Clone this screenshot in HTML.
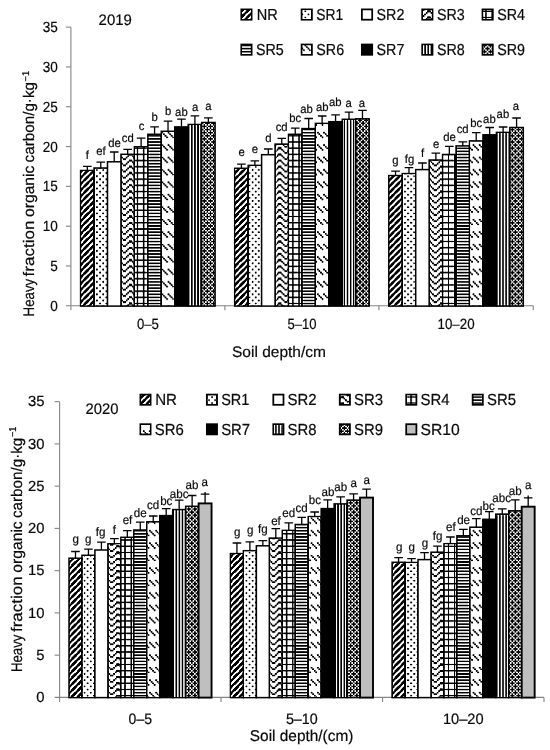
<!DOCTYPE html>
<html><head><meta charset="utf-8"><title>Heavy fraction organic carbon</title>
<style>
html,body{margin:0;padding:0;background:#fff;}
svg{display:block;font-family:'Liberation Sans', sans-serif;}
text{fill:#0a0a0a;stroke:#0a0a0a;stroke-width:0.2px;text-rendering:geometricPrecision;}
</style></head>
<body>
<svg width="550" height="750" viewBox="0 0 550 750">
<defs>
<filter id="sharp" filterUnits="userSpaceOnUse" x="0" y="0" width="550" height="750" color-interpolation-filters="sRGB"><feConvolveMatrix order="3" kernelMatrix="0 -0.35 0 -0.35 2.4 -0.35 0 -0.35 0" divisor="1" preserveAlpha="true"/></filter>
<g id="k0"><path d="M-1.5 5L5 -1.5M-1.5 1L1 -1.5M2.5 5L5 2.5" stroke="#000" stroke-width="1.38" fill="none"/></g>
<g id="r0"><use href="#k0" x="-4"/><use href="#k0" x="0"/><use href="#k0" x="4"/><use href="#k0" x="8"/><use href="#k0" x="12"/><use href="#k0" x="16"/><use href="#k0" x="20"/><use href="#k0" x="24"/><use href="#k0" x="28"/><use href="#k0" x="32"/><use href="#k0" x="36"/><use href="#k0" x="40"/><use href="#k0" x="44"/><use href="#k0" x="48"/><use href="#k0" x="52"/><use href="#k0" x="56"/><use href="#k0" x="60"/><use href="#k0" x="64"/><use href="#k0" x="68"/><use href="#k0" x="72"/></g>
<g id="m0"><use href="#r0" y="-4"/><use href="#r0" y="0"/><use href="#r0" y="4"/><use href="#r0" y="8"/><use href="#r0" y="12"/><use href="#r0" y="16"/><use href="#r0" y="20"/><use href="#r0" y="24"/><use href="#r0" y="28"/><use href="#r0" y="32"/><use href="#r0" y="36"/><use href="#r0" y="40"/><use href="#r0" y="44"/><use href="#r0" y="48"/><use href="#r0" y="52"/><use href="#r0" y="56"/><use href="#r0" y="60"/><use href="#r0" y="64"/><use href="#r0" y="68"/><use href="#r0" y="72"/></g>
<g id="k1"><rect x="0" y="0" width="1" height="1" fill="#000"/><rect x="2" y="2" width="1" height="1" fill="#000"/></g>
<g id="r1"><use href="#k1" x="-4"/><use href="#k1" x="0"/><use href="#k1" x="4"/><use href="#k1" x="8"/><use href="#k1" x="12"/><use href="#k1" x="16"/><use href="#k1" x="20"/><use href="#k1" x="24"/><use href="#k1" x="28"/><use href="#k1" x="32"/><use href="#k1" x="36"/><use href="#k1" x="40"/><use href="#k1" x="44"/><use href="#k1" x="48"/><use href="#k1" x="52"/><use href="#k1" x="56"/><use href="#k1" x="60"/><use href="#k1" x="64"/><use href="#k1" x="68"/><use href="#k1" x="72"/></g>
<g id="m1"><use href="#r1" y="-4"/><use href="#r1" y="0"/><use href="#r1" y="4"/><use href="#r1" y="8"/><use href="#r1" y="12"/><use href="#r1" y="16"/><use href="#r1" y="20"/><use href="#r1" y="24"/><use href="#r1" y="28"/><use href="#r1" y="32"/><use href="#r1" y="36"/><use href="#r1" y="40"/><use href="#r1" y="44"/><use href="#r1" y="48"/><use href="#r1" y="52"/><use href="#r1" y="56"/><use href="#r1" y="60"/><use href="#r1" y="64"/><use href="#r1" y="68"/><use href="#r1" y="72"/></g>
<g id="k3"><rect x="-0.05" y="-0.05" width="1.1" height="1.1" fill="#000"/><rect x="6.95" y="-0.05" width="1.1" height="1.1" fill="#000"/><rect x="0.95" y="0.95" width="1.1" height="1.1" fill="#000"/><rect x="5.95" y="0.95" width="1.1" height="1.1" fill="#000"/><rect x="1.95" y="1.95" width="1.1" height="1.1" fill="#000"/><rect x="4.95" y="1.95" width="1.1" height="1.1" fill="#000"/><rect x="2.95" y="2.95" width="2.1" height="1.1"/><rect x="-1.05" y="-0.05" width="2.1" height="1.1"/><rect x="6.95" y="-0.05" width="2.1" height="1.1"/></g>
<g id="r3"><use href="#k3" x="-8"/><use href="#k3" x="0"/><use href="#k3" x="8"/><use href="#k3" x="16"/><use href="#k3" x="24"/><use href="#k3" x="32"/><use href="#k3" x="40"/><use href="#k3" x="48"/><use href="#k3" x="56"/><use href="#k3" x="64"/><use href="#k3" x="72"/></g>
<g id="m3"><use href="#r3" y="-4"/><use href="#r3" y="0"/><use href="#r3" y="4"/><use href="#r3" y="8"/><use href="#r3" y="12"/><use href="#r3" y="16"/><use href="#r3" y="20"/><use href="#r3" y="24"/><use href="#r3" y="28"/><use href="#r3" y="32"/><use href="#r3" y="36"/><use href="#r3" y="40"/><use href="#r3" y="44"/><use href="#r3" y="48"/><use href="#r3" y="52"/><use href="#r3" y="56"/><use href="#r3" y="60"/><use href="#r3" y="64"/><use href="#r3" y="68"/><use href="#r3" y="72"/></g>
<g id="k6"><rect x="-0.04" y="1.96" width="1.08" height="1.08" fill="#000"/><rect x="0.96" y="2.96" width="1.08" height="1.08" fill="#000"/><rect x="1.96" y="3.96" width="1.08" height="1.08" fill="#000"/><rect x="2.96" y="4.96" width="1.08" height="1.08" fill="#000"/></g>
<g id="r6"><use href="#k6" x="-4"/><use href="#k6" x="0"/><use href="#k6" x="4"/><use href="#k6" x="8"/><use href="#k6" x="12"/><use href="#k6" x="16"/><use href="#k6" x="20"/><use href="#k6" x="24"/><use href="#k6" x="28"/><use href="#k6" x="32"/><use href="#k6" x="36"/><use href="#k6" x="40"/><use href="#k6" x="44"/><use href="#k6" x="48"/><use href="#k6" x="52"/><use href="#k6" x="56"/><use href="#k6" x="60"/><use href="#k6" x="64"/><use href="#k6" x="68"/><use href="#k6" x="72"/></g>
<g id="m6"><use href="#r6" y="-8"/><use href="#r6" y="0"/><use href="#r6" y="8"/><use href="#r6" y="16"/><use href="#r6" y="24"/><use href="#r6" y="32"/><use href="#r6" y="40"/><use href="#r6" y="48"/><use href="#r6" y="56"/><use href="#r6" y="64"/><use href="#r6" y="72"/></g>
<g id="k9"><rect x="2.99" y="-0.01" width="1.02" height="1.02" fill="#fff"/><rect x="-0.01" y="0.99" width="1.02" height="1.02" fill="#fff"/><rect x="1.99" y="0.99" width="1.02" height="1.02" fill="#fff"/><rect x="0.99" y="1.99" width="1.02" height="1.02" fill="#fff"/><rect x="-0.01" y="2.99" width="1.02" height="1.02" fill="#fff"/><rect x="1.99" y="2.99" width="1.02" height="1.02" fill="#fff"/></g>
<g id="r9"><use href="#k9" x="-4"/><use href="#k9" x="0"/><use href="#k9" x="4"/><use href="#k9" x="8"/><use href="#k9" x="12"/><use href="#k9" x="16"/><use href="#k9" x="20"/><use href="#k9" x="24"/><use href="#k9" x="28"/><use href="#k9" x="32"/><use href="#k9" x="36"/><use href="#k9" x="40"/><use href="#k9" x="44"/><use href="#k9" x="48"/><use href="#k9" x="52"/><use href="#k9" x="56"/><use href="#k9" x="60"/><use href="#k9" x="64"/><use href="#k9" x="68"/><use href="#k9" x="72"/></g>
<g id="m9"><use href="#r9" y="-4"/><use href="#r9" y="0"/><use href="#r9" y="4"/><use href="#r9" y="8"/><use href="#r9" y="12"/><use href="#r9" y="16"/><use href="#r9" y="20"/><use href="#r9" y="24"/><use href="#r9" y="28"/><use href="#r9" y="32"/><use href="#r9" y="36"/><use href="#r9" y="40"/><use href="#r9" y="44"/><use href="#r9" y="48"/><use href="#r9" y="52"/><use href="#r9" y="56"/><use href="#r9" y="60"/><use href="#r9" y="64"/><use href="#r9" y="68"/><use href="#r9" y="72"/></g>
<g id="m4"><rect x="-6" y="-4" width="84" height="0.92"/><rect x="-4" y="-6" width="0.92" height="84"/><rect x="-6" y="0" width="84" height="0.92"/><rect x="0" y="-6" width="0.92" height="84"/><rect x="-6" y="4" width="84" height="0.92"/><rect x="4" y="-6" width="0.92" height="84"/><rect x="-6" y="8" width="84" height="0.92"/><rect x="8" y="-6" width="0.92" height="84"/><rect x="-6" y="12" width="84" height="0.92"/><rect x="12" y="-6" width="0.92" height="84"/><rect x="-6" y="16" width="84" height="0.92"/><rect x="16" y="-6" width="0.92" height="84"/><rect x="-6" y="20" width="84" height="0.92"/><rect x="20" y="-6" width="0.92" height="84"/><rect x="-6" y="24" width="84" height="0.92"/><rect x="24" y="-6" width="0.92" height="84"/><rect x="-6" y="28" width="84" height="0.92"/><rect x="28" y="-6" width="0.92" height="84"/><rect x="-6" y="32" width="84" height="0.92"/><rect x="32" y="-6" width="0.92" height="84"/><rect x="-6" y="36" width="84" height="0.92"/><rect x="36" y="-6" width="0.92" height="84"/><rect x="-6" y="40" width="84" height="0.92"/><rect x="40" y="-6" width="0.92" height="84"/><rect x="-6" y="44" width="84" height="0.92"/><rect x="44" y="-6" width="0.92" height="84"/><rect x="-6" y="48" width="84" height="0.92"/><rect x="48" y="-6" width="0.92" height="84"/><rect x="-6" y="52" width="84" height="0.92"/><rect x="52" y="-6" width="0.92" height="84"/><rect x="-6" y="56" width="84" height="0.92"/><rect x="56" y="-6" width="0.92" height="84"/><rect x="-6" y="60" width="84" height="0.92"/><rect x="60" y="-6" width="0.92" height="84"/><rect x="-6" y="64" width="84" height="0.92"/><rect x="64" y="-6" width="0.92" height="84"/><rect x="-6" y="68" width="84" height="0.92"/><rect x="68" y="-6" width="0.92" height="84"/><rect x="-6" y="72" width="84" height="0.92"/><rect x="72" y="-6" width="0.92" height="84"/><rect x="-6" y="76" width="84" height="0.92"/><rect x="76" y="-6" width="0.92" height="84"/></g>
<g id="m5"><rect x="-6" y="-4.02" width="84" height="1.04"/><rect x="-6" y="-2.02" width="84" height="1.04"/><rect x="-6" y="-0.02" width="84" height="1.04"/><rect x="-6" y="1.98" width="84" height="1.04"/><rect x="-6" y="3.98" width="84" height="1.04"/><rect x="-6" y="5.98" width="84" height="1.04"/><rect x="-6" y="7.98" width="84" height="1.04"/><rect x="-6" y="9.98" width="84" height="1.04"/><rect x="-6" y="11.98" width="84" height="1.04"/><rect x="-6" y="13.98" width="84" height="1.04"/><rect x="-6" y="15.98" width="84" height="1.04"/><rect x="-6" y="17.98" width="84" height="1.04"/><rect x="-6" y="19.98" width="84" height="1.04"/><rect x="-6" y="21.98" width="84" height="1.04"/><rect x="-6" y="23.98" width="84" height="1.04"/><rect x="-6" y="25.98" width="84" height="1.04"/><rect x="-6" y="27.98" width="84" height="1.04"/><rect x="-6" y="29.98" width="84" height="1.04"/><rect x="-6" y="31.98" width="84" height="1.04"/><rect x="-6" y="33.98" width="84" height="1.04"/><rect x="-6" y="35.98" width="84" height="1.04"/><rect x="-6" y="37.98" width="84" height="1.04"/><rect x="-6" y="39.98" width="84" height="1.04"/><rect x="-6" y="41.98" width="84" height="1.04"/><rect x="-6" y="43.98" width="84" height="1.04"/><rect x="-6" y="45.98" width="84" height="1.04"/><rect x="-6" y="47.98" width="84" height="1.04"/><rect x="-6" y="49.98" width="84" height="1.04"/><rect x="-6" y="51.98" width="84" height="1.04"/><rect x="-6" y="53.98" width="84" height="1.04"/><rect x="-6" y="55.98" width="84" height="1.04"/><rect x="-6" y="57.98" width="84" height="1.04"/><rect x="-6" y="59.98" width="84" height="1.04"/><rect x="-6" y="61.98" width="84" height="1.04"/><rect x="-6" y="63.98" width="84" height="1.04"/><rect x="-6" y="65.98" width="84" height="1.04"/><rect x="-6" y="67.98" width="84" height="1.04"/><rect x="-6" y="69.98" width="84" height="1.04"/><rect x="-6" y="71.98" width="84" height="1.04"/><rect x="-6" y="73.98" width="84" height="1.04"/><rect x="-6" y="75.98" width="84" height="1.04"/></g>
<g id="m8"><rect x="-3.04" y="-6" width="1.08" height="84"/><rect x="-1.04" y="-6" width="1.08" height="84"/><rect x="0.96" y="-6" width="1.08" height="84"/><rect x="2.96" y="-6" width="1.08" height="84"/><rect x="4.96" y="-6" width="1.08" height="84"/><rect x="6.96" y="-6" width="1.08" height="84"/><rect x="8.96" y="-6" width="1.08" height="84"/><rect x="10.96" y="-6" width="1.08" height="84"/><rect x="12.96" y="-6" width="1.08" height="84"/><rect x="14.96" y="-6" width="1.08" height="84"/><rect x="16.96" y="-6" width="1.08" height="84"/><rect x="18.96" y="-6" width="1.08" height="84"/><rect x="20.96" y="-6" width="1.08" height="84"/><rect x="22.96" y="-6" width="1.08" height="84"/><rect x="24.96" y="-6" width="1.08" height="84"/><rect x="26.96" y="-6" width="1.08" height="84"/><rect x="28.96" y="-6" width="1.08" height="84"/><rect x="30.96" y="-6" width="1.08" height="84"/><rect x="32.96" y="-6" width="1.08" height="84"/><rect x="34.96" y="-6" width="1.08" height="84"/><rect x="36.96" y="-6" width="1.08" height="84"/><rect x="38.96" y="-6" width="1.08" height="84"/><rect x="40.96" y="-6" width="1.08" height="84"/><rect x="42.96" y="-6" width="1.08" height="84"/><rect x="44.96" y="-6" width="1.08" height="84"/><rect x="46.96" y="-6" width="1.08" height="84"/><rect x="48.96" y="-6" width="1.08" height="84"/><rect x="50.96" y="-6" width="1.08" height="84"/><rect x="52.96" y="-6" width="1.08" height="84"/><rect x="54.96" y="-6" width="1.08" height="84"/><rect x="56.96" y="-6" width="1.08" height="84"/><rect x="58.96" y="-6" width="1.08" height="84"/><rect x="60.96" y="-6" width="1.08" height="84"/><rect x="62.96" y="-6" width="1.08" height="84"/><rect x="64.96" y="-6" width="1.08" height="84"/><rect x="66.96" y="-6" width="1.08" height="84"/><rect x="68.96" y="-6" width="1.08" height="84"/><rect x="70.96" y="-6" width="1.08" height="84"/><rect x="72.96" y="-6" width="1.08" height="84"/><rect x="74.96" y="-6" width="1.08" height="84"/><rect x="76.96" y="-6" width="1.08" height="84"/></g>
<pattern id="tp0" patternUnits="userSpaceOnUse" width="72" height="72" patternTransform="scale(1.555556)"><rect width="72" height="72" fill="#fff"/><use href="#m0" transform="translate(3.8571 2.7386)"/></pattern>
<pattern id="tp1" patternUnits="userSpaceOnUse" width="72" height="72" patternTransform="scale(1.555556)"><rect width="72" height="72" fill="#fff"/><use href="#m1" transform="translate(3.8571 2.7386)"/></pattern>
<pattern id="tp2" patternUnits="userSpaceOnUse" width="72" height="72" patternTransform="scale(1.555556)"><rect width="72" height="72" fill="#fff"/></pattern>
<pattern id="tp3" patternUnits="userSpaceOnUse" width="72" height="72" patternTransform="scale(1.555556)"><rect width="72" height="72" fill="#fff"/><use href="#m3" transform="translate(3.8571 2.7386)"/></pattern>
<pattern id="tp4" patternUnits="userSpaceOnUse" width="72" height="72" patternTransform="scale(1.555556)"><rect width="72" height="72" fill="#fff"/><use href="#m4" transform="translate(3.8571 2.7386)"/></pattern>
<pattern id="tp5" patternUnits="userSpaceOnUse" width="72" height="72" patternTransform="scale(1.555556)"><rect width="72" height="72" fill="#fff"/><use href="#m5" transform="translate(3.8571 2.7386)"/></pattern>
<pattern id="tp6" patternUnits="userSpaceOnUse" width="72" height="72" patternTransform="scale(1.555556)"><rect width="72" height="72" fill="#fff"/><use href="#m6" transform="translate(3.8571 2.7386)"/></pattern>
<pattern id="tp7" patternUnits="userSpaceOnUse" width="72" height="72" patternTransform="scale(1.555556)"><rect width="72" height="72" fill="#000"/></pattern>
<pattern id="tp8" patternUnits="userSpaceOnUse" width="72" height="72" patternTransform="scale(1.555556)"><rect width="72" height="72" fill="#fff"/><use href="#m8" transform="translate(3.8571 2.7386)"/></pattern>
<pattern id="tp9" patternUnits="userSpaceOnUse" width="72" height="72" patternTransform="scale(1.555556)"><rect width="72" height="72" fill="#000"/><use href="#m9" transform="translate(3.8571 2.7386)"/></pattern>
<pattern id="tp10" patternUnits="userSpaceOnUse" width="72" height="72" patternTransform="scale(1.555556)"><rect width="72" height="72" fill="#bfbfbf"/></pattern>
<pattern id="bp0" patternUnits="userSpaceOnUse" width="72" height="72" patternTransform="scale(1.555556)"><rect width="72" height="72" fill="#fff"/><use href="#m0" transform="translate(3.8571 2.7386)"/></pattern>
<pattern id="bp1" patternUnits="userSpaceOnUse" width="72" height="72" patternTransform="scale(1.555556)"><rect width="72" height="72" fill="#fff"/><use href="#m1" transform="translate(3.8571 2.7386)"/></pattern>
<pattern id="bp2" patternUnits="userSpaceOnUse" width="72" height="72" patternTransform="scale(1.555556)"><rect width="72" height="72" fill="#fff"/></pattern>
<pattern id="bp3" patternUnits="userSpaceOnUse" width="72" height="72" patternTransform="scale(1.555556)"><rect width="72" height="72" fill="#fff"/><use href="#m3" transform="translate(3.8571 2.7386)"/></pattern>
<pattern id="bp4" patternUnits="userSpaceOnUse" width="72" height="72" patternTransform="scale(1.555556)"><rect width="72" height="72" fill="#fff"/><use href="#m4" transform="translate(3.8571 2.7386)"/></pattern>
<pattern id="bp5" patternUnits="userSpaceOnUse" width="72" height="72" patternTransform="scale(1.555556)"><rect width="72" height="72" fill="#fff"/><use href="#m5" transform="translate(3.8571 2.7386)"/></pattern>
<pattern id="bp6" patternUnits="userSpaceOnUse" width="72" height="72" patternTransform="scale(1.555556)"><rect width="72" height="72" fill="#fff"/><use href="#m6" transform="translate(3.8571 2.7386)"/></pattern>
<pattern id="bp7" patternUnits="userSpaceOnUse" width="72" height="72" patternTransform="scale(1.555556)"><rect width="72" height="72" fill="#000"/></pattern>
<pattern id="bp8" patternUnits="userSpaceOnUse" width="72" height="72" patternTransform="scale(1.555556)"><rect width="72" height="72" fill="#fff"/><use href="#m8" transform="translate(3.8571 2.7386)"/></pattern>
<pattern id="bp9" patternUnits="userSpaceOnUse" width="72" height="72" patternTransform="scale(1.555556)"><rect width="72" height="72" fill="#000"/><use href="#m9" transform="translate(3.8571 2.7386)"/></pattern>
<pattern id="bp10" patternUnits="userSpaceOnUse" width="72" height="72" patternTransform="scale(1.555556)"><rect width="72" height="72" fill="#bfbfbf"/></pattern>
</defs>
<rect width="550" height="750" fill="#fff"/>
<g id="chart2019">
<path d="M70.9 27.13V310.3M65.9 305.8H533.2" stroke="#858585" stroke-width="1.1" fill="none"/>
<path d="M65.9 265.99H70.9" stroke="#858585" stroke-width="1.1" fill="none"/>
<path d="M65.9 226.18H70.9" stroke="#858585" stroke-width="1.1" fill="none"/>
<path d="M65.9 186.37H70.9" stroke="#858585" stroke-width="1.1" fill="none"/>
<path d="M65.9 146.56H70.9" stroke="#858585" stroke-width="1.1" fill="none"/>
<path d="M65.9 106.75H70.9" stroke="#858585" stroke-width="1.1" fill="none"/>
<path d="M65.9 66.94H70.9" stroke="#858585" stroke-width="1.1" fill="none"/>
<path d="M65.9 27.13H70.9" stroke="#858585" stroke-width="1.1" fill="none"/>
<path d="M224.9 305.8V310.3" stroke="#858585" stroke-width="1.1" fill="none"/>
<path d="M378.9 305.8V310.3" stroke="#858585" stroke-width="1.1" fill="none"/>
<path d="M533.2 305.8V310.3" stroke="#858585" stroke-width="1.1" fill="none"/>
<g filter="url(#sharp)"><rect x="80.60" y="170.50" width="13.45" height="135.60" fill="url(#tp0)" stroke="#000" stroke-width="1.5"/>
<rect x="94.05" y="168.00" width="13.45" height="138.10" fill="url(#tp1)" stroke="#000" stroke-width="1.5"/>
<rect x="120.95" y="154.30" width="13.45" height="151.80" fill="url(#tp3)" stroke="#000" stroke-width="1.5"/>
<rect x="134.40" y="146.80" width="13.45" height="159.30" fill="url(#tp4)" stroke="#000" stroke-width="1.5"/>
<rect x="147.85" y="134.30" width="13.45" height="171.80" fill="url(#tp5)" stroke="#000" stroke-width="1.5"/>
<rect x="161.30" y="131.30" width="13.45" height="174.80" fill="url(#tp6)" stroke="#000" stroke-width="1.5"/>
<rect x="188.20" y="124.50" width="13.45" height="181.60" fill="url(#tp8)" stroke="#000" stroke-width="1.5"/>
<rect x="201.65" y="122.50" width="13.45" height="183.60" fill="url(#tp9)" stroke="#000" stroke-width="1.5"/>
<rect x="234.70" y="168.30" width="13.45" height="137.80" fill="url(#tp0)" stroke="#000" stroke-width="1.5"/>
<rect x="248.15" y="165.40" width="13.45" height="140.70" fill="url(#tp1)" stroke="#000" stroke-width="1.5"/>
<rect x="275.05" y="144.10" width="13.45" height="162.00" fill="url(#tp3)" stroke="#000" stroke-width="1.5"/>
<rect x="288.50" y="134.30" width="13.45" height="171.80" fill="url(#tp4)" stroke="#000" stroke-width="1.5"/>
<rect x="301.95" y="128.60" width="13.45" height="177.50" fill="url(#tp5)" stroke="#000" stroke-width="1.5"/>
<rect x="315.40" y="123.40" width="13.45" height="182.70" fill="url(#tp6)" stroke="#000" stroke-width="1.5"/>
<rect x="342.30" y="119.30" width="13.45" height="186.80" fill="url(#tp8)" stroke="#000" stroke-width="1.5"/>
<rect x="355.75" y="118.80" width="13.45" height="187.30" fill="url(#tp9)" stroke="#000" stroke-width="1.5"/>
<rect x="388.80" y="175.60" width="13.45" height="130.50" fill="url(#tp0)" stroke="#000" stroke-width="1.5"/>
<rect x="402.25" y="173.60" width="13.45" height="132.50" fill="url(#tp1)" stroke="#000" stroke-width="1.5"/>
<rect x="429.15" y="160.00" width="13.45" height="146.10" fill="url(#tp3)" stroke="#000" stroke-width="1.5"/>
<rect x="442.60" y="154.50" width="13.45" height="151.60" fill="url(#tp4)" stroke="#000" stroke-width="1.5"/>
<rect x="456.05" y="145.90" width="13.45" height="160.20" fill="url(#tp5)" stroke="#000" stroke-width="1.5"/>
<rect x="469.50" y="140.90" width="13.45" height="165.20" fill="url(#tp6)" stroke="#000" stroke-width="1.5"/>
<rect x="496.40" y="132.40" width="13.45" height="173.70" fill="url(#tp8)" stroke="#000" stroke-width="1.5"/>
<rect x="509.85" y="127.50" width="13.45" height="178.60" fill="url(#tp9)" stroke="#000" stroke-width="1.5"/></g>
<path d="M87.32 170.50V166.30M83.02 166.30H91.62" stroke="#000" stroke-width="1.3" fill="none"/>
<path d="M100.77 168.00V162.10M96.47 162.10H105.07" stroke="#000" stroke-width="1.3" fill="none"/>
<rect x="107.50" y="161.80" width="13.45" height="144.30" fill="url(#tp2)" stroke="#000" stroke-width="1.5"/>
<path d="M114.22 161.80V152.00M109.92 152.00H118.52" stroke="#000" stroke-width="1.3" fill="none"/>
<path d="M127.67 154.30V149.30M123.37 149.30H131.97" stroke="#000" stroke-width="1.3" fill="none"/>
<path d="M141.12 146.80V138.20M136.82 138.20H145.42" stroke="#000" stroke-width="1.3" fill="none"/>
<path d="M154.57 134.30V126.80M150.27 126.80H158.88" stroke="#000" stroke-width="1.3" fill="none"/>
<path d="M168.02 131.30V121.20M163.72 121.20H172.32" stroke="#000" stroke-width="1.3" fill="none"/>
<rect x="174.75" y="126.90" width="13.45" height="179.20" fill="url(#tp7)" stroke="#000" stroke-width="1.5"/>
<path d="M181.47 126.90V119.10M177.17 119.10H185.78" stroke="#000" stroke-width="1.3" fill="none"/>
<path d="M194.92 124.50V115.80M190.62 115.80H199.22" stroke="#000" stroke-width="1.3" fill="none"/>
<path d="M208.37 122.50V117.90M204.07 117.90H212.67" stroke="#000" stroke-width="1.3" fill="none"/>
<path d="M241.42 168.30V164.10M237.12 164.10H245.72" stroke="#000" stroke-width="1.3" fill="none"/>
<path d="M254.87 165.40V160.80M250.57 160.80H259.17" stroke="#000" stroke-width="1.3" fill="none"/>
<rect x="261.60" y="154.70" width="13.45" height="151.40" fill="url(#tp2)" stroke="#000" stroke-width="1.5"/>
<path d="M268.32 154.70V149.00M264.02 149.00H272.62" stroke="#000" stroke-width="1.3" fill="none"/>
<path d="M281.77 144.10V138.40M277.47 138.40H286.07" stroke="#000" stroke-width="1.3" fill="none"/>
<path d="M295.23 134.30V128.20M290.93 128.20H299.53" stroke="#000" stroke-width="1.3" fill="none"/>
<path d="M308.68 128.60V118.50M304.38 118.50H312.98" stroke="#000" stroke-width="1.3" fill="none"/>
<path d="M322.12 123.40V116.00M317.82 116.00H326.43" stroke="#000" stroke-width="1.3" fill="none"/>
<rect x="328.85" y="121.70" width="13.45" height="184.40" fill="url(#tp7)" stroke="#000" stroke-width="1.5"/>
<path d="M335.57 121.70V114.90M331.27 114.90H339.88" stroke="#000" stroke-width="1.3" fill="none"/>
<path d="M349.02 119.30V112.20M344.72 112.20H353.32" stroke="#000" stroke-width="1.3" fill="none"/>
<path d="M362.48 118.80V110.30M358.18 110.30H366.78" stroke="#000" stroke-width="1.3" fill="none"/>
<path d="M395.53 175.60V171.20M391.23 171.20H399.83" stroke="#000" stroke-width="1.3" fill="none"/>
<path d="M408.98 173.60V167.60M404.68 167.60H413.28" stroke="#000" stroke-width="1.3" fill="none"/>
<rect x="415.70" y="169.60" width="13.45" height="136.50" fill="url(#tp2)" stroke="#000" stroke-width="1.5"/>
<path d="M422.43 169.60V163.00M418.12 163.00H426.73" stroke="#000" stroke-width="1.3" fill="none"/>
<path d="M435.88 160.00V153.20M431.57 153.20H440.18" stroke="#000" stroke-width="1.3" fill="none"/>
<path d="M449.33 154.50V146.30M445.03 146.30H453.63" stroke="#000" stroke-width="1.3" fill="none"/>
<path d="M462.78 145.90V141.80M458.48 141.80H467.08" stroke="#000" stroke-width="1.3" fill="none"/>
<path d="M476.23 140.90V132.70M471.93 132.70H480.53" stroke="#000" stroke-width="1.3" fill="none"/>
<rect x="482.95" y="134.80" width="13.45" height="171.30" fill="url(#tp7)" stroke="#000" stroke-width="1.5"/>
<path d="M489.68 134.80V127.50M485.38 127.50H493.98" stroke="#000" stroke-width="1.3" fill="none"/>
<path d="M503.12 132.40V127.00M498.82 127.00H507.43" stroke="#000" stroke-width="1.3" fill="none"/>
<path d="M516.58 127.50V118.00M512.28 118.00H520.88" stroke="#000" stroke-width="1.3" fill="none"/>
<text x="85.73" y="159.20" font-size="11.9" textLength="3.14" lengthAdjust="spacingAndGlyphs">f</text>
<text x="96.29" y="154.90" font-size="11.9" textLength="9.43" lengthAdjust="spacingAndGlyphs">ef</text>
<text x="108.31" y="147.00" font-size="11.9" textLength="12.57" lengthAdjust="spacingAndGlyphs">de</text>
<text x="121.83" y="142.10" font-size="11.9" textLength="11.94" lengthAdjust="spacingAndGlyphs">cd</text>
<text x="138.67" y="129.50" font-size="11.9" textLength="5.65" lengthAdjust="spacingAndGlyphs">c</text>
<text x="151.56" y="121.30" font-size="11.9" textLength="6.29" lengthAdjust="spacingAndGlyphs">b</text>
<text x="165.06" y="114.70" font-size="11.9" textLength="6.29" lengthAdjust="spacingAndGlyphs">b</text>
<text x="175.11" y="115.90" font-size="11.9" textLength="12.57" lengthAdjust="spacingAndGlyphs">ab</text>
<text x="192.06" y="110.90" font-size="11.9" textLength="6.29" lengthAdjust="spacingAndGlyphs">a</text>
<text x="205.26" y="110.10" font-size="11.9" textLength="6.29" lengthAdjust="spacingAndGlyphs">a</text>
<text x="238.46" y="156.00" font-size="11.9" textLength="6.29" lengthAdjust="spacingAndGlyphs">e</text>
<text x="251.86" y="153.20" font-size="11.9" textLength="6.29" lengthAdjust="spacingAndGlyphs">e</text>
<text x="265.26" y="141.70" font-size="11.9" textLength="6.29" lengthAdjust="spacingAndGlyphs">d</text>
<text x="275.73" y="131.40" font-size="11.9" textLength="11.94" lengthAdjust="spacingAndGlyphs">cd</text>
<text x="289.13" y="121.60" font-size="11.9" textLength="11.94" lengthAdjust="spacingAndGlyphs">bc</text>
<text x="300.21" y="113.00" font-size="11.9" textLength="12.57" lengthAdjust="spacingAndGlyphs">ab</text>
<text x="315.91" y="110.70" font-size="11.9" textLength="12.57" lengthAdjust="spacingAndGlyphs">ab</text>
<text x="329.01" y="106.10" font-size="11.9" textLength="12.57" lengthAdjust="spacingAndGlyphs">ab</text>
<text x="345.46" y="107.10" font-size="11.9" textLength="6.29" lengthAdjust="spacingAndGlyphs">a</text>
<text x="358.86" y="106.60" font-size="11.9" textLength="6.29" lengthAdjust="spacingAndGlyphs">a</text>
<text x="392.36" y="163.90" font-size="11.9" textLength="6.29" lengthAdjust="spacingAndGlyphs">g</text>
<text x="404.79" y="162.80" font-size="11.9" textLength="9.43" lengthAdjust="spacingAndGlyphs">fg</text>
<text x="421.03" y="156.90" font-size="11.9" textLength="3.14" lengthAdjust="spacingAndGlyphs">f</text>
<text x="432.96" y="147.90" font-size="11.9" textLength="6.29" lengthAdjust="spacingAndGlyphs">e</text>
<text x="443.31" y="140.50" font-size="11.9" textLength="12.57" lengthAdjust="spacingAndGlyphs">de</text>
<text x="456.63" y="133.40" font-size="11.9" textLength="11.94" lengthAdjust="spacingAndGlyphs">cd</text>
<text x="470.23" y="126.70" font-size="11.9" textLength="11.94" lengthAdjust="spacingAndGlyphs">bc</text>
<text x="483.11" y="122.60" font-size="11.9" textLength="12.57" lengthAdjust="spacingAndGlyphs">ab</text>
<text x="496.61" y="118.00" font-size="11.9" textLength="12.57" lengthAdjust="spacingAndGlyphs">ab</text>
<text x="512.86" y="110.40" font-size="11.9" textLength="6.29" lengthAdjust="spacingAndGlyphs">a</text>
<text x="50.25" y="310.85" font-size="14.7" textLength="7.55" lengthAdjust="spacingAndGlyphs">0</text>
<text x="50.25" y="271.04" font-size="14.7" textLength="7.55" lengthAdjust="spacingAndGlyphs">5</text>
<text x="42.70" y="231.23" font-size="14.7" textLength="15.10" lengthAdjust="spacingAndGlyphs">10</text>
<text x="42.70" y="191.42" font-size="14.7" textLength="15.10" lengthAdjust="spacingAndGlyphs">15</text>
<text x="42.70" y="151.61" font-size="14.7" textLength="15.10" lengthAdjust="spacingAndGlyphs">20</text>
<text x="42.70" y="111.80" font-size="14.7" textLength="15.10" lengthAdjust="spacingAndGlyphs">25</text>
<text x="42.70" y="71.99" font-size="14.7" textLength="15.10" lengthAdjust="spacingAndGlyphs">30</text>
<text x="42.70" y="32.18" font-size="14.7" textLength="15.10" lengthAdjust="spacingAndGlyphs">35</text>
<text x="136.90" y="328.9" font-size="14.8" textLength="22.0" lengthAdjust="spacingAndGlyphs">0–5</text>
<text x="287.40" y="328.9" font-size="14.8" textLength="29.0" lengthAdjust="spacingAndGlyphs">5–10</text>
<text x="437.55" y="328.9" font-size="14.8" textLength="37.0" lengthAdjust="spacingAndGlyphs">10–20</text>
<text x="232.0" y="356.6" font-size="15.3" textLength="94.0" lengthAdjust="spacingAndGlyphs">Soil depth/cm</text>
<text transform="translate(34.4 316.40) rotate(-90)" font-size="15.3" textLength="37.6" lengthAdjust="spacingAndGlyphs">Heavy</text>
<text transform="translate(34.4 276.40) rotate(-90)" font-size="15.3" textLength="55.8" lengthAdjust="spacingAndGlyphs">fraction</text>
<text transform="translate(34.4 217.00) rotate(-90)" font-size="15.3" textLength="51.4" lengthAdjust="spacingAndGlyphs">organic</text>
<text transform="translate(34.4 162.40) rotate(-90)" font-size="15.3" textLength="80.4" lengthAdjust="spacingAndGlyphs">carbon/g·kg</text>
<text transform="translate(28.9 81.40) rotate(-90)" font-size="10.0" textLength="10.6" lengthAdjust="spacingAndGlyphs">−1</text>
<text x="98.6" y="25.4" font-size="15.2" textLength="33.2" lengthAdjust="spacingAndGlyphs">2019</text>
<rect x="241.30" y="9.40" width="10.3" height="10.3" fill="url(#tp0)" stroke="#000" stroke-width="1.75" filter="url(#sharp)"/>
<text x="256.80" y="20.00" font-size="15.9" textLength="21.0" lengthAdjust="spacingAndGlyphs">NR</text>
<rect x="301.60" y="9.40" width="10.3" height="10.3" fill="url(#tp1)" stroke="#000" stroke-width="1.75" filter="url(#sharp)"/>
<text x="316.30" y="20.00" font-size="15.9" textLength="27.0" lengthAdjust="spacingAndGlyphs">SR1</text>
<rect x="361.90" y="9.40" width="10.3" height="10.3" fill="url(#tp2)" stroke="#000" stroke-width="1.75"/>
<text x="376.60" y="20.00" font-size="15.9" textLength="27.8" lengthAdjust="spacingAndGlyphs">SR2</text>
<rect x="422.20" y="9.40" width="10.3" height="10.3" fill="url(#tp3)" stroke="#000" stroke-width="1.75" filter="url(#sharp)"/>
<text x="436.90" y="20.00" font-size="15.9" textLength="27.8" lengthAdjust="spacingAndGlyphs">SR3</text>
<rect x="482.50" y="9.40" width="10.3" height="10.3" fill="url(#tp4)" stroke="#000" stroke-width="1.75" filter="url(#sharp)"/>
<text x="497.20" y="20.00" font-size="15.9" textLength="27.8" lengthAdjust="spacingAndGlyphs">SR4</text>
<rect x="241.30" y="44.50" width="10.3" height="10.3" fill="url(#tp5)" stroke="#000" stroke-width="1.75" filter="url(#sharp)"/>
<text x="256.00" y="55.10" font-size="15.9" textLength="27.8" lengthAdjust="spacingAndGlyphs">SR5</text>
<rect x="301.60" y="44.50" width="10.3" height="10.3" fill="url(#tp6)" stroke="#000" stroke-width="1.75" filter="url(#sharp)"/>
<text x="316.30" y="55.10" font-size="15.9" textLength="27.8" lengthAdjust="spacingAndGlyphs">SR6</text>
<rect x="361.90" y="44.50" width="10.3" height="10.3" fill="url(#tp7)" stroke="#000" stroke-width="1.75"/>
<text x="376.60" y="55.10" font-size="15.9" textLength="27.8" lengthAdjust="spacingAndGlyphs">SR7</text>
<rect x="422.20" y="44.50" width="10.3" height="10.3" fill="url(#tp8)" stroke="#000" stroke-width="1.75" filter="url(#sharp)"/>
<text x="436.90" y="55.10" font-size="15.9" textLength="27.8" lengthAdjust="spacingAndGlyphs">SR8</text>
<rect x="482.50" y="44.50" width="10.3" height="10.3" fill="url(#tp9)" stroke="#000" stroke-width="1.75" filter="url(#sharp)"/>
<text x="497.20" y="55.10" font-size="15.9" textLength="27.8" lengthAdjust="spacingAndGlyphs">SR9</text>
</g>
<g id="chart2020">
<path d="M59.6 401.65V701.9M54.6 697.4H544.0" stroke="#858585" stroke-width="1.1" fill="none"/>
<path d="M54.6 655.15H59.6" stroke="#858585" stroke-width="1.1" fill="none"/>
<path d="M54.6 612.90H59.6" stroke="#858585" stroke-width="1.1" fill="none"/>
<path d="M54.6 570.65H59.6" stroke="#858585" stroke-width="1.1" fill="none"/>
<path d="M54.6 528.40H59.6" stroke="#858585" stroke-width="1.1" fill="none"/>
<path d="M54.6 486.15H59.6" stroke="#858585" stroke-width="1.1" fill="none"/>
<path d="M54.6 443.90H59.6" stroke="#858585" stroke-width="1.1" fill="none"/>
<path d="M54.6 401.65H59.6" stroke="#858585" stroke-width="1.1" fill="none"/>
<path d="M221.0 697.4V701.9" stroke="#858585" stroke-width="1.1" fill="none"/>
<path d="M382.6 697.4V701.9" stroke="#858585" stroke-width="1.1" fill="none"/>
<path d="M544.0 697.4V701.9" stroke="#858585" stroke-width="1.1" fill="none"/>
<g filter="url(#sharp)"><rect x="69.00" y="558.20" width="12.96" height="139.40" fill="url(#bp0)" stroke="#000" stroke-width="1.5"/>
<rect x="81.96" y="555.30" width="12.96" height="142.30" fill="url(#bp1)" stroke="#000" stroke-width="1.5"/>
<rect x="107.88" y="543.80" width="12.96" height="153.80" fill="url(#bp3)" stroke="#000" stroke-width="1.5"/>
<rect x="120.84" y="537.30" width="12.96" height="160.30" fill="url(#bp4)" stroke="#000" stroke-width="1.5"/>
<rect x="133.80" y="530.00" width="12.96" height="167.60" fill="url(#bp5)" stroke="#000" stroke-width="1.5"/>
<rect x="146.76" y="521.80" width="12.96" height="175.80" fill="url(#bp6)" stroke="#000" stroke-width="1.5"/>
<rect x="172.68" y="509.60" width="12.96" height="188.00" fill="url(#bp8)" stroke="#000" stroke-width="1.5"/>
<rect x="185.64" y="506.30" width="12.96" height="191.30" fill="url(#bp9)" stroke="#000" stroke-width="1.5"/>
<rect x="230.45" y="553.60" width="12.96" height="144.00" fill="url(#bp0)" stroke="#000" stroke-width="1.5"/>
<rect x="243.41" y="550.70" width="12.96" height="146.90" fill="url(#bp1)" stroke="#000" stroke-width="1.5"/>
<rect x="269.33" y="538.10" width="12.96" height="159.50" fill="url(#bp3)" stroke="#000" stroke-width="1.5"/>
<rect x="282.29" y="530.40" width="12.96" height="167.20" fill="url(#bp4)" stroke="#000" stroke-width="1.5"/>
<rect x="295.25" y="524.50" width="12.96" height="173.10" fill="url(#bp5)" stroke="#000" stroke-width="1.5"/>
<rect x="308.21" y="516.60" width="12.96" height="181.00" fill="url(#bp6)" stroke="#000" stroke-width="1.5"/>
<rect x="334.13" y="503.90" width="12.96" height="193.70" fill="url(#bp8)" stroke="#000" stroke-width="1.5"/>
<rect x="347.09" y="500.10" width="12.96" height="197.50" fill="url(#bp9)" stroke="#000" stroke-width="1.5"/>
<rect x="392.10" y="562.30" width="12.96" height="135.30" fill="url(#bp0)" stroke="#000" stroke-width="1.5"/>
<rect x="405.06" y="562.50" width="12.96" height="135.10" fill="url(#bp1)" stroke="#000" stroke-width="1.5"/>
<rect x="430.98" y="552.20" width="12.96" height="145.40" fill="url(#bp3)" stroke="#000" stroke-width="1.5"/>
<rect x="443.94" y="543.70" width="12.96" height="153.90" fill="url(#bp4)" stroke="#000" stroke-width="1.5"/>
<rect x="456.90" y="535.80" width="12.96" height="161.80" fill="url(#bp5)" stroke="#000" stroke-width="1.5"/>
<rect x="469.86" y="527.20" width="12.96" height="170.40" fill="url(#bp6)" stroke="#000" stroke-width="1.5"/>
<rect x="495.78" y="514.10" width="12.96" height="183.50" fill="url(#bp8)" stroke="#000" stroke-width="1.5"/>
<rect x="508.74" y="510.80" width="12.96" height="186.80" fill="url(#bp9)" stroke="#000" stroke-width="1.5"/></g>
<path d="M75.48 558.20V551.50M71.18 551.50H79.78" stroke="#000" stroke-width="1.3" fill="none"/>
<path d="M88.44 555.30V549.20M84.14 549.20H92.74" stroke="#000" stroke-width="1.3" fill="none"/>
<rect x="94.92" y="550.00" width="12.96" height="147.60" fill="url(#bp2)" stroke="#000" stroke-width="1.5"/>
<path d="M101.40 550.00V542.20M97.10 542.20H105.70" stroke="#000" stroke-width="1.3" fill="none"/>
<path d="M114.36 543.80V538.60M110.06 538.60H118.66" stroke="#000" stroke-width="1.3" fill="none"/>
<path d="M127.32 537.30V530.70M123.02 530.70H131.62" stroke="#000" stroke-width="1.3" fill="none"/>
<path d="M140.28 530.00V522.20M135.98 522.20H144.58" stroke="#000" stroke-width="1.3" fill="none"/>
<path d="M153.24 521.80V516.00M148.94 516.00H157.54" stroke="#000" stroke-width="1.3" fill="none"/>
<rect x="159.72" y="515.60" width="12.96" height="182.00" fill="url(#bp7)" stroke="#000" stroke-width="1.5"/>
<path d="M166.20 515.60V508.60M161.90 508.60H170.50" stroke="#000" stroke-width="1.3" fill="none"/>
<path d="M179.16 509.60V500.10M174.86 500.10H183.46" stroke="#000" stroke-width="1.3" fill="none"/>
<path d="M192.12 506.30V495.50M187.82 495.50H196.42" stroke="#000" stroke-width="1.3" fill="none"/>
<rect x="198.60" y="503.40" width="12.96" height="194.20" fill="url(#bp10)" stroke="#000" stroke-width="1.9"/>
<path d="M205.08 503.40V492.00M200.78 494.10H209.38" stroke="#000" stroke-width="1.3" fill="none"/>
<path d="M236.93 553.60V543.00M232.63 543.00H241.23" stroke="#000" stroke-width="1.3" fill="none"/>
<path d="M249.89 550.70V541.90M245.59 541.90H254.19" stroke="#000" stroke-width="1.3" fill="none"/>
<rect x="256.37" y="545.80" width="12.96" height="151.80" fill="url(#bp2)" stroke="#000" stroke-width="1.5"/>
<path d="M262.85 545.80V540.60M258.55 540.60H267.15" stroke="#000" stroke-width="1.3" fill="none"/>
<path d="M275.81 538.10V528.60M271.51 528.60H280.11" stroke="#000" stroke-width="1.3" fill="none"/>
<path d="M288.77 530.40V522.90M284.47 522.90H293.07" stroke="#000" stroke-width="1.3" fill="none"/>
<path d="M301.73 524.50V517.30M297.43 517.30H306.03" stroke="#000" stroke-width="1.3" fill="none"/>
<path d="M314.69 516.60V512.00M310.39 512.00H318.99" stroke="#000" stroke-width="1.3" fill="none"/>
<rect x="321.17" y="508.60" width="12.96" height="189.00" fill="url(#bp7)" stroke="#000" stroke-width="1.5"/>
<path d="M327.65 508.60V499.80M323.35 499.80H331.95" stroke="#000" stroke-width="1.3" fill="none"/>
<path d="M340.61 503.90V496.80M336.31 496.80H344.91" stroke="#000" stroke-width="1.3" fill="none"/>
<path d="M353.57 500.10V493.90M349.27 493.90H357.87" stroke="#000" stroke-width="1.3" fill="none"/>
<rect x="360.05" y="497.60" width="12.96" height="200.00" fill="url(#bp10)" stroke="#000" stroke-width="1.9"/>
<path d="M366.53 497.60V489.10M362.23 489.10H370.83" stroke="#000" stroke-width="1.3" fill="none"/>
<path d="M398.58 562.30V557.60M394.28 557.60H402.88" stroke="#000" stroke-width="1.3" fill="none"/>
<path d="M411.54 562.50V558.70M407.24 558.70H415.84" stroke="#000" stroke-width="1.3" fill="none"/>
<rect x="418.02" y="559.60" width="12.96" height="138.00" fill="url(#bp2)" stroke="#000" stroke-width="1.5"/>
<path d="M424.50 559.60V552.70M420.20 552.70H428.80" stroke="#000" stroke-width="1.3" fill="none"/>
<path d="M437.46 552.20V546.10M433.16 546.10H441.76" stroke="#000" stroke-width="1.3" fill="none"/>
<path d="M450.42 543.70V537.00M446.12 537.00H454.72" stroke="#000" stroke-width="1.3" fill="none"/>
<path d="M463.38 535.80V529.30M459.08 529.30H467.68" stroke="#000" stroke-width="1.3" fill="none"/>
<path d="M476.34 527.20V518.70M472.04 518.70H480.64" stroke="#000" stroke-width="1.3" fill="none"/>
<rect x="482.82" y="519.30" width="12.96" height="178.30" fill="url(#bp7)" stroke="#000" stroke-width="1.5"/>
<path d="M489.30 519.30V511.60M485.00 511.60H493.60" stroke="#000" stroke-width="1.3" fill="none"/>
<path d="M502.26 514.10V508.90M497.96 508.90H506.56" stroke="#000" stroke-width="1.3" fill="none"/>
<path d="M515.22 510.80V499.90M510.92 499.90H519.52" stroke="#000" stroke-width="1.3" fill="none"/>
<rect x="521.70" y="506.70" width="12.96" height="190.90" fill="url(#bp10)" stroke="#000" stroke-width="1.9"/>
<path d="M528.18 506.70V495.50M523.88 497.80H532.48" stroke="#000" stroke-width="1.3" fill="none"/>
<text x="72.38" y="542.70" font-size="12.2" textLength="6.44" lengthAdjust="spacingAndGlyphs">g</text>
<text x="84.98" y="543.00" font-size="12.2" textLength="6.44" lengthAdjust="spacingAndGlyphs">g</text>
<text x="95.67" y="535.60" font-size="12.2" textLength="9.67" lengthAdjust="spacingAndGlyphs">fg</text>
<text x="112.79" y="534.30" font-size="12.2" textLength="3.22" lengthAdjust="spacingAndGlyphs">f</text>
<text x="122.67" y="523.70" font-size="12.2" textLength="9.67" lengthAdjust="spacingAndGlyphs">ef</text>
<text x="133.76" y="516.70" font-size="12.2" textLength="12.89" lengthAdjust="spacingAndGlyphs">de</text>
<text x="147.08" y="509.10" font-size="12.2" textLength="12.24" lengthAdjust="spacingAndGlyphs">cd</text>
<text x="160.18" y="504.80" font-size="12.2" textLength="12.24" lengthAdjust="spacingAndGlyphs">bc</text>
<text x="169.76" y="497.60" font-size="12.2" textLength="18.68" lengthAdjust="spacingAndGlyphs">abc</text>
<text x="185.46" y="488.50" font-size="12.2" textLength="12.89" lengthAdjust="spacingAndGlyphs">ab</text>
<text x="201.58" y="485.70" font-size="12.2" textLength="6.44" lengthAdjust="spacingAndGlyphs">a</text>
<text x="233.88" y="535.60" font-size="12.2" textLength="6.44" lengthAdjust="spacingAndGlyphs">g</text>
<text x="246.98" y="533.50" font-size="12.2" textLength="6.44" lengthAdjust="spacingAndGlyphs">g</text>
<text x="258.07" y="533.20" font-size="12.2" textLength="9.67" lengthAdjust="spacingAndGlyphs">fg</text>
<text x="271.17" y="525.30" font-size="12.2" textLength="9.67" lengthAdjust="spacingAndGlyphs">ef</text>
<text x="282.36" y="517.10" font-size="12.2" textLength="12.89" lengthAdjust="spacingAndGlyphs">ed</text>
<text x="295.48" y="511.60" font-size="12.2" textLength="12.24" lengthAdjust="spacingAndGlyphs">cd</text>
<text x="308.78" y="503.80" font-size="12.2" textLength="12.24" lengthAdjust="spacingAndGlyphs">bc</text>
<text x="321.56" y="495.50" font-size="12.2" textLength="12.89" lengthAdjust="spacingAndGlyphs">ab</text>
<text x="334.26" y="490.60" font-size="12.2" textLength="12.89" lengthAdjust="spacingAndGlyphs">ab</text>
<text x="350.58" y="487.00" font-size="12.2" textLength="6.44" lengthAdjust="spacingAndGlyphs">a</text>
<text x="363.38" y="484.00" font-size="12.2" textLength="6.44" lengthAdjust="spacingAndGlyphs">a</text>
<text x="395.88" y="550.50" font-size="12.2" textLength="6.44" lengthAdjust="spacingAndGlyphs">g</text>
<text x="408.58" y="550.50" font-size="12.2" textLength="6.44" lengthAdjust="spacingAndGlyphs">g</text>
<text x="421.68" y="547.30" font-size="12.2" textLength="6.44" lengthAdjust="spacingAndGlyphs">g</text>
<text x="432.87" y="539.90" font-size="12.2" textLength="9.67" lengthAdjust="spacingAndGlyphs">fg</text>
<text x="445.97" y="531.00" font-size="12.2" textLength="9.67" lengthAdjust="spacingAndGlyphs">ef</text>
<text x="457.16" y="523.80" font-size="12.2" textLength="12.89" lengthAdjust="spacingAndGlyphs">de</text>
<text x="470.18" y="515.20" font-size="12.2" textLength="12.24" lengthAdjust="spacingAndGlyphs">cd</text>
<text x="482.48" y="509.60" font-size="12.2" textLength="12.24" lengthAdjust="spacingAndGlyphs">bc</text>
<text x="492.26" y="502.40" font-size="12.2" textLength="18.68" lengthAdjust="spacingAndGlyphs">abc</text>
<text x="508.76" y="495.00" font-size="12.2" textLength="12.89" lengthAdjust="spacingAndGlyphs">ab</text>
<text x="524.98" y="489.00" font-size="12.2" textLength="6.44" lengthAdjust="spacingAndGlyphs">a</text>
<text x="36.25" y="702.00" font-size="14.7" textLength="8.25" lengthAdjust="spacingAndGlyphs">0</text>
<text x="36.25" y="659.75" font-size="14.7" textLength="8.25" lengthAdjust="spacingAndGlyphs">5</text>
<text x="28.00" y="617.50" font-size="14.7" textLength="16.50" lengthAdjust="spacingAndGlyphs">10</text>
<text x="28.00" y="575.25" font-size="14.7" textLength="16.50" lengthAdjust="spacingAndGlyphs">15</text>
<text x="28.00" y="533.00" font-size="14.7" textLength="16.50" lengthAdjust="spacingAndGlyphs">20</text>
<text x="28.00" y="490.75" font-size="14.7" textLength="16.50" lengthAdjust="spacingAndGlyphs">25</text>
<text x="28.00" y="448.50" font-size="14.7" textLength="16.50" lengthAdjust="spacingAndGlyphs">30</text>
<text x="28.00" y="406.25" font-size="14.7" textLength="16.50" lengthAdjust="spacingAndGlyphs">35</text>
<text x="128.60" y="723.6" font-size="15.0" textLength="23.4" lengthAdjust="spacingAndGlyphs">0–5</text>
<text x="285.90" y="723.6" font-size="15.0" textLength="31.8" lengthAdjust="spacingAndGlyphs">5–10</text>
<text x="442.90" y="723.6" font-size="15.0" textLength="40.8" lengthAdjust="spacingAndGlyphs">10–20</text>
<text x="249.8" y="740.6" font-size="15.6" textLength="103.6" lengthAdjust="spacingAndGlyphs">Soil depth/(cm)</text>
<text transform="translate(21.6 672.10) rotate(-90)" font-size="15.4" textLength="37.6" lengthAdjust="spacingAndGlyphs">Heavy</text>
<text transform="translate(21.6 632.10) rotate(-90)" font-size="15.4" textLength="55.8" lengthAdjust="spacingAndGlyphs">fraction</text>
<text transform="translate(21.6 572.70) rotate(-90)" font-size="15.4" textLength="51.4" lengthAdjust="spacingAndGlyphs">organic</text>
<text transform="translate(21.6 518.10) rotate(-90)" font-size="15.4" textLength="80.4" lengthAdjust="spacingAndGlyphs">carbon/g·kg</text>
<text transform="translate(16.1 437.10) rotate(-90)" font-size="10.1" textLength="10.6" lengthAdjust="spacingAndGlyphs">−1</text>
<text x="85.6" y="413.7" font-size="15.2" textLength="33.0" lengthAdjust="spacingAndGlyphs">2020</text>
<rect x="140.40" y="394.60" width="10.2" height="10.2" fill="url(#bp0)" stroke="#000" stroke-width="1.75" filter="url(#sharp)"/>
<text x="155.20" y="405.10" font-size="16.1" textLength="21.8" lengthAdjust="spacingAndGlyphs">NR</text>
<rect x="206.85" y="394.60" width="10.2" height="10.2" fill="url(#bp1)" stroke="#000" stroke-width="1.75" filter="url(#sharp)"/>
<text x="221.15" y="405.10" font-size="16.1" textLength="28.2" lengthAdjust="spacingAndGlyphs">SR1</text>
<rect x="273.30" y="394.60" width="10.2" height="10.2" fill="url(#bp2)" stroke="#000" stroke-width="1.75"/>
<text x="287.60" y="405.10" font-size="16.1" textLength="29.0" lengthAdjust="spacingAndGlyphs">SR2</text>
<rect x="339.75" y="394.60" width="10.2" height="10.2" fill="url(#bp3)" stroke="#000" stroke-width="1.75" filter="url(#sharp)"/>
<text x="354.05" y="405.10" font-size="16.1" textLength="29.0" lengthAdjust="spacingAndGlyphs">SR3</text>
<rect x="406.20" y="394.60" width="10.2" height="10.2" fill="url(#bp4)" stroke="#000" stroke-width="1.75" filter="url(#sharp)"/>
<text x="420.50" y="405.10" font-size="16.1" textLength="29.0" lengthAdjust="spacingAndGlyphs">SR4</text>
<rect x="472.65" y="394.60" width="10.2" height="10.2" fill="url(#bp5)" stroke="#000" stroke-width="1.75" filter="url(#sharp)"/>
<text x="486.95" y="405.10" font-size="16.1" textLength="29.0" lengthAdjust="spacingAndGlyphs">SR5</text>
<rect x="140.40" y="424.20" width="10.2" height="10.2" fill="url(#bp6)" stroke="#000" stroke-width="1.75" filter="url(#sharp)"/>
<text x="154.70" y="434.70" font-size="16.1" textLength="29.0" lengthAdjust="spacingAndGlyphs">SR6</text>
<rect x="206.85" y="424.20" width="10.2" height="10.2" fill="url(#bp7)" stroke="#000" stroke-width="1.75"/>
<text x="221.15" y="434.70" font-size="16.1" textLength="29.0" lengthAdjust="spacingAndGlyphs">SR7</text>
<rect x="273.30" y="424.20" width="10.2" height="10.2" fill="url(#bp8)" stroke="#000" stroke-width="1.75" filter="url(#sharp)"/>
<text x="287.60" y="434.70" font-size="16.1" textLength="29.0" lengthAdjust="spacingAndGlyphs">SR8</text>
<rect x="339.75" y="424.20" width="10.2" height="10.2" fill="url(#bp9)" stroke="#000" stroke-width="1.75" filter="url(#sharp)"/>
<text x="354.05" y="434.70" font-size="16.1" textLength="29.0" lengthAdjust="spacingAndGlyphs">SR9</text>
<rect x="406.20" y="424.20" width="10.2" height="10.2" fill="url(#bp10)" stroke="#000" stroke-width="1.75"/>
<text x="420.50" y="434.70" font-size="16.1" textLength="39.2" lengthAdjust="spacingAndGlyphs">SR10</text>
</g>
</svg>
</body></html>
